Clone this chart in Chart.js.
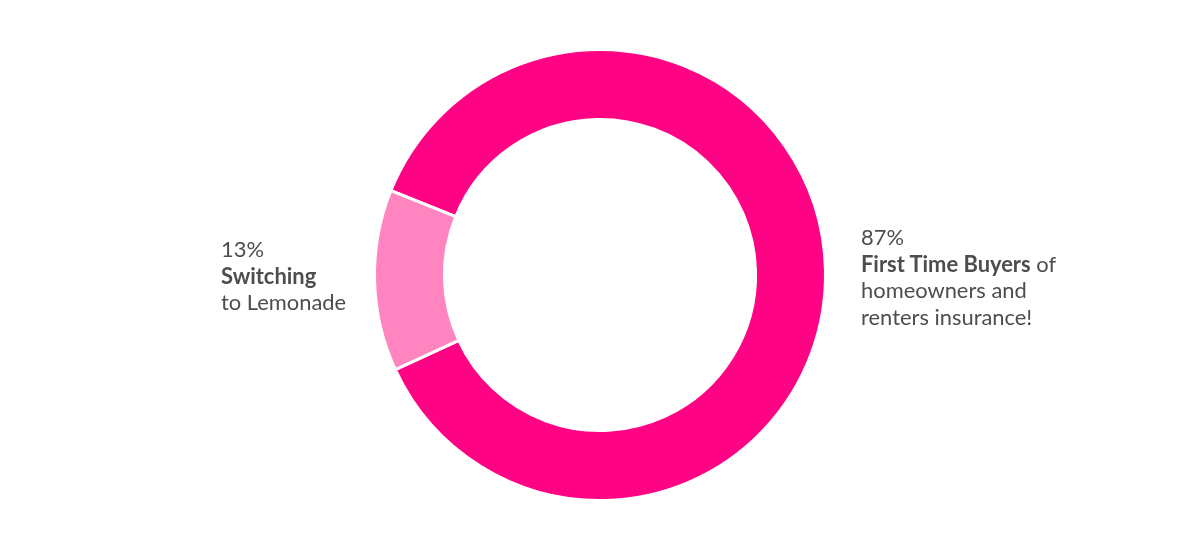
<!DOCTYPE html>
<html>
<head>
<meta charset="utf-8">
<script src="https://cdn.jsdelivr.net/npm/chart.js@4.4.1/dist/chart.umd.min.js"></script>
<style>
  html, body { margin: 0; padding: 0; background: #fff; }
  #wrap { position: relative; width: 1200px; height: 550px; }
  canvas { display: block; }
  .lbl {
    position: absolute;
    font-family: Lato, "Open Sans", sans-serif;
    font-size: 21.9px;
    line-height: 26.7px;
    color: #4d4d4d;
    white-space: nowrap;
  }
  .lbl b { font-weight: 700; }
</style>
</head>
<body>
<div id="wrap">
  <canvas id="donut" width="1200" height="550"></canvas>
  <div class="lbl" id="lbl-switch" style="left:221px; top:236px;"></div>
  <div class="lbl" id="lbl-first" style="left:861px; top:224px;"></div>
</div>
<script>
// dados do gráfico
const categories = ['First Time Buyers', 'Switching'];
const values = [87, 13];
const colors = ['#ff0385', '#ff84c0'];

// textos dos rótulos (negrito, resto)
const firstLines = ['homeowners and', 'renters insurance!'];
const switchLines = ['to Lemonade'];

function fillLabel(el, pct, bold, after, rest) {
  el.innerHTML = pct + '%<br><b>' + bold + '</b>' + (after ? ' ' + after : '') +
    rest.map(l => '<br>' + l).join('');
}

document.addEventListener('DOMContentLoaded', () => {
  fillLabel(document.getElementById('lbl-first'), values[0], categories[0], 'of', firstLines);
  fillLabel(document.getElementById('lbl-switch'), values[1], categories[1], '', switchLines);

  const ctx = document.getElementById('donut').getContext('2d');
  new Chart(ctx, {
    type: 'doughnut',
    data: {
      labels: categories,
      datasets: [{
        data: values,
        backgroundColor: colors,
        borderColor: '#ffffff',
        borderWidth: 3
      }]
    },
    options: {
      responsive: false,
      animation: false,
      rotation: 292,
      cutout: '69%',
      layout: { padding: { top: 48, bottom: 48 } },
      plugins: {
        legend: { display: false },
        tooltip: { enabled: false }
      }
    }
  });
});
</script>
</body>
</html>
